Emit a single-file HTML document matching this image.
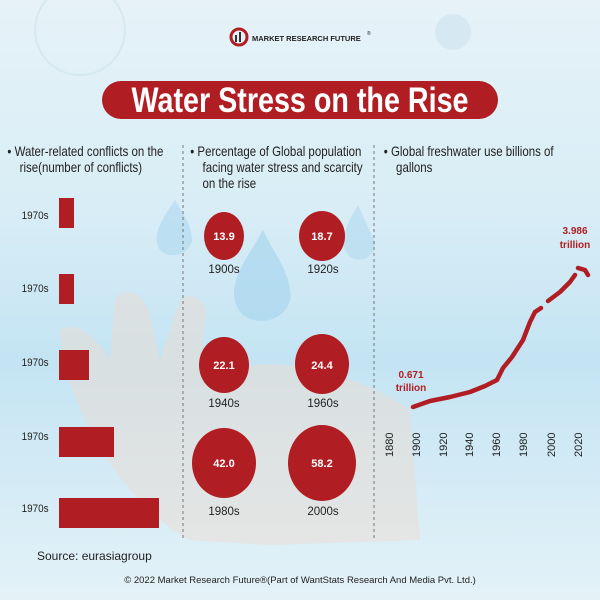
<!DOCTYPE html>
<html><head><meta charset="utf-8"><style>
body{margin:0;width:600px;height:600px;overflow:hidden;font-family:"Liberation Sans",sans-serif}
</style></head><body>
<svg width="600" height="600" xmlns="http://www.w3.org/2000/svg" font-family="Liberation Sans, sans-serif">
<defs><linearGradient id="bg" x1="0" y1="0" x2="0" y2="1">
<stop offset="0" stop-color="#e6f2f8"/><stop offset="0.35" stop-color="#d8edf6"/><stop offset="0.6" stop-color="#c4e4f3"/><stop offset="1" stop-color="#e4f2f8"/></linearGradient></defs>
<rect width="600" height="600" fill="url(#bg)"/>
<circle cx="80" cy="30" r="45" fill="none" stroke="#d6e8f0" stroke-width="2"/>
<circle cx="453" cy="32" r="18" fill="#d6e9f3"/>
<!-- drops -->
<path d="M263 230 C252 252 218 290 243 315 C263 330 295 315 290 290 C288 270 275 255 263 230Z" fill="#a9d6ee" opacity="0.7"/>
<path d="M175 200 C165 215 150 235 160 250 C170 260 190 255 192 240 C192 225 182 212 175 200Z" fill="#a9d6ee" opacity="0.55"/>
<path d="M358 205 C348 222 338 240 348 255 C358 265 375 258 375 243Z" fill="#a9d6ee" opacity="0.5"/>
<!-- hand -->
<path d="M60 330 C75 320 95 335 110 360 L115 300 C120 285 145 290 150 315 L160 360 L180 300 C190 290 210 300 205 320 L200 380 C240 360 290 360 330 375 C360 380 390 395 410 410 L420 540 L270 545 L190 540 C150 520 110 470 90 430 C75 400 60 360 60 330Z" fill="#ecdcd2" opacity="0.5"/>
<!-- logo -->
<circle cx="239" cy="37" r="8" fill="none" stroke="#b01e23" stroke-width="3"/>
<rect x="235" y="35" width="2" height="7" fill="#333"/><rect x="239" y="32" width="2" height="10" fill="#333"/>
<text x="252" y="41" font-size="7.5" font-weight="bold" fill="#222">MARKET  RESEARCH  FUTURE</text>
<text x="367" y="35" font-size="5" fill="#222">®</text>
<!-- title -->
<rect x="102" y="81" width="396" height="38" rx="19" fill="#b01e23"/>
<text x="300" y="112" font-size="35" font-weight="bold" fill="#fff" text-anchor="middle" transform="translate(300 0) scale(0.82 1) translate(-300 0)">Water Stress on the Rise</text>
<g font-size="14" fill="#222" transform="scale(0.82 1)">
<text x="9" y="156">• Water-related conflicts on the</text>
<text x="24" y="172">rise(number of conflicts)</text>
<text x="232" y="156">• Percentage of Global population</text>
<text x="247" y="172">facing water stress and scarcity</text>
<text x="247" y="188">on the rise</text>
<text x="468" y="156">• Global freshwater use billions of</text>
<text x="483" y="172">gallons</text>
</g>
<line x1="183" y1="145" x2="183" y2="540" stroke="#777" stroke-dasharray="3,3"/>
<line x1="374" y1="145" x2="374" y2="540" stroke="#777" stroke-dasharray="3,3"/>
<!-- bars -->
<g fill="#b01e23">
<rect x="59" y="198" width="15" height="30"/><rect x="59" y="274" width="15" height="30"/>
<rect x="59" y="350" width="30" height="30"/><rect x="59" y="427" width="55" height="30"/>
<rect x="59" y="498" width="100" height="30"/></g>
<g font-size="11" fill="#222" transform="scale(0.9 1)"><text x="24" y="219">1970s</text><text x="24" y="292">1970s</text><text x="24" y="366">1970s</text><text x="24" y="440">1970s</text><text x="24" y="512">1970s</text></g>
<!-- circles -->
<g fill="#b01e23">
<ellipse cx="224" cy="236" rx="20" ry="24"/><ellipse cx="322" cy="236" rx="23" ry="25"/>
<ellipse cx="224" cy="365" rx="25" ry="28"/><ellipse cx="322" cy="364" rx="27" ry="30"/>
<ellipse cx="224" cy="463" rx="32" ry="35"/><ellipse cx="322" cy="463" rx="34" ry="38"/></g>
<g font-size="11" font-weight="bold" fill="#fff" text-anchor="middle">
<text x="224" y="240">13.9</text><text x="322" y="240">18.7</text><text x="224" y="369">22.1</text><text x="322" y="369">24.4</text><text x="224" y="467">42.0</text><text x="322" y="467">58.2</text></g>
<g font-size="11.5" fill="#222" text-anchor="middle">
<text x="224" y="273">1900s</text><text x="323" y="273">1920s</text><text x="224" y="407">1940s</text><text x="323" y="407">1960s</text><text x="224" y="515">1980s</text><text x="323" y="515">2000s</text></g>
<!-- line chart -->
<path d="M413 407 L430 401 L450 397 L470 392 L485 386 L497 380 L503 368 L512 357 L523 340 L530 322 L535 312 L541 308 M548 301 L560 292 L570 282 L575 275 M578 268 L585 270 L588 275" fill="none" stroke="#b01e23" stroke-width="4.5" stroke-linecap="round" stroke-linejoin="round"/>
<g font-size="10" font-weight="bold" fill="#b01e23" text-anchor="middle">
<text x="411" y="378">0.671</text><text x="411" y="391">trillion</text>
<text x="575" y="234">3.986</text><text x="575" y="248">trillion</text></g>
<g font-size="11" fill="#222">
<text transform="translate(393 457) rotate(-90)">1880</text><text transform="translate(420 457) rotate(-90)">1900</text>
<text transform="translate(447 457) rotate(-90)">1920</text><text transform="translate(473 457) rotate(-90)">1940</text>
<text transform="translate(500 457) rotate(-90)">1960</text><text transform="translate(527 457) rotate(-90)">1980</text>
<text transform="translate(555 457) rotate(-90)">2000</text><text transform="translate(582 457) rotate(-90)">2020</text></g>
<text x="37" y="560" font-size="12" fill="#222">Source: eurasiagroup</text>
<text x="300" y="583" font-size="9.5" fill="#222" text-anchor="middle">© 2022 Market Research Future®(Part of WantStats Research And Media Pvt. Ltd.)</text>
</svg>
</body></html>
